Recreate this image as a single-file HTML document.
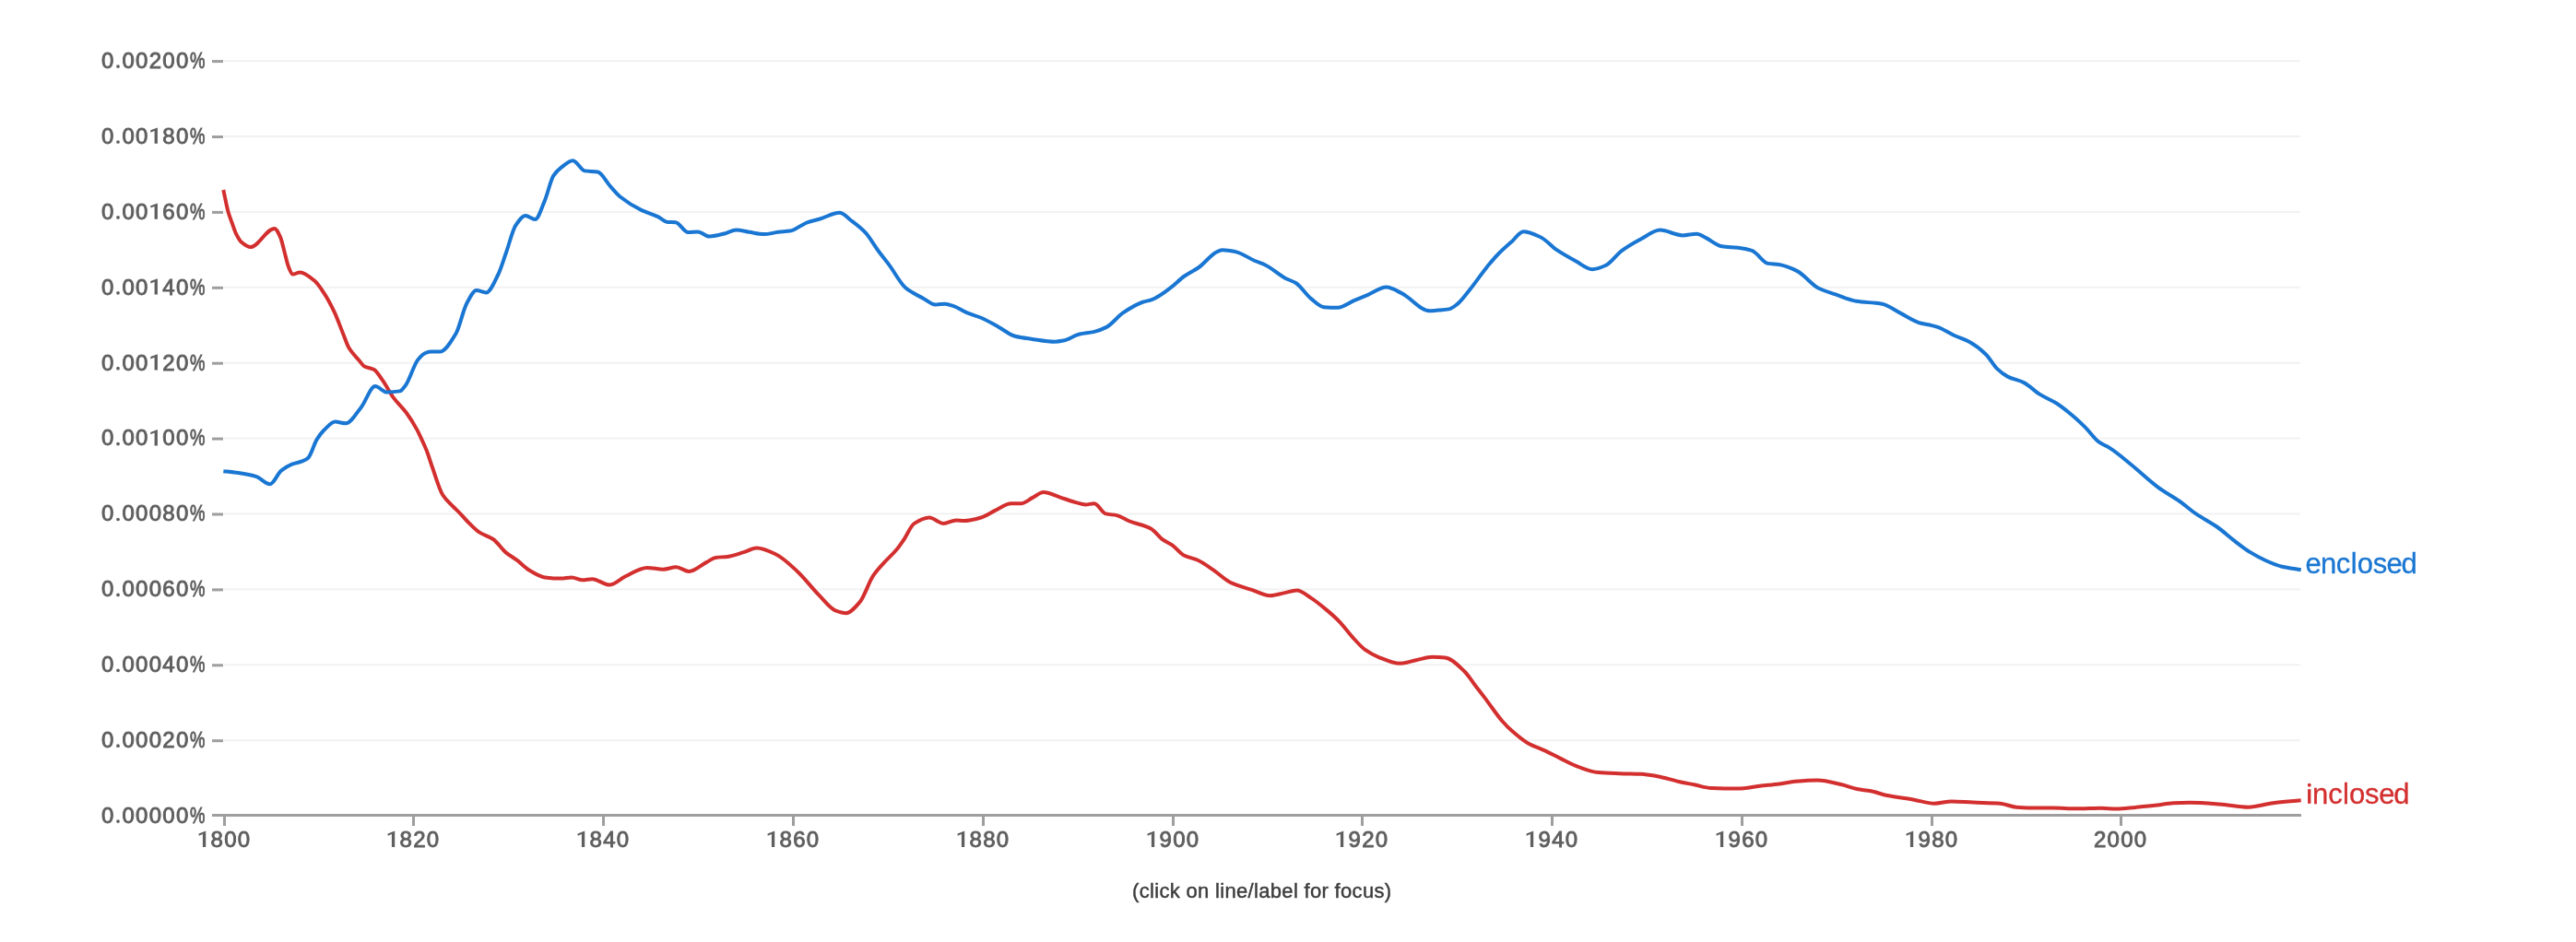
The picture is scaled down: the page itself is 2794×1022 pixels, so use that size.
<!DOCTYPE html>
<html><head><meta charset="utf-8">
<style>
html,body{margin:0;padding:0;background:#fff;}
body{width:2794px;height:1022px;overflow:hidden;position:relative;}
svg{position:absolute;left:0;top:0;will-change:transform;}
text{font-family:"Liberation Sans",sans-serif;}
.yl{font-size:24px;fill:#5f5f5f;text-anchor:middle;stroke:#5f5f5f;stroke-width:0.9px;}
.xl{font-size:24px;fill:#5f5f5f;text-anchor:middle;stroke:#5f5f5f;stroke-width:0.9px;}
.sl{font-size:31px;text-anchor:middle;stroke-width:0.3px;}
.cap{font-size:22px;fill:#3c3c3c;text-anchor:middle;stroke:#3c3c3c;stroke-width:0.45px;}
</style></head>
<body>
<svg width="2794" height="1022" viewBox="0 0 2794 1022">
<rect x="243" y="802.20" width="2252" height="2" fill="#f2f2f2"/><rect x="243" y="720.30" width="2252" height="2" fill="#f2f2f2"/><rect x="243" y="638.40" width="2252" height="2" fill="#f2f2f2"/><rect x="243" y="556.50" width="2252" height="2" fill="#f2f2f2"/><rect x="243" y="474.60" width="2252" height="2" fill="#f2f2f2"/><rect x="243" y="392.70" width="2252" height="2" fill="#f2f2f2"/><rect x="243" y="310.80" width="2252" height="2" fill="#f2f2f2"/><rect x="243" y="228.90" width="2252" height="2" fill="#f2f2f2"/><rect x="243" y="147.00" width="2252" height="2" fill="#f2f2f2"/><rect x="243" y="65.10" width="2252" height="2" fill="#f2f2f2"/>
<rect x="230" y="802.20" width="12" height="3" fill="#9e9e9e"/><rect x="230" y="720.30" width="12" height="3" fill="#9e9e9e"/><rect x="230" y="638.40" width="12" height="3" fill="#9e9e9e"/><rect x="230" y="556.50" width="12" height="3" fill="#9e9e9e"/><rect x="230" y="474.60" width="12" height="3" fill="#9e9e9e"/><rect x="230" y="392.70" width="12" height="3" fill="#9e9e9e"/><rect x="230" y="310.80" width="12" height="3" fill="#9e9e9e"/><rect x="230" y="228.90" width="12" height="3" fill="#9e9e9e"/><rect x="230" y="147.00" width="12" height="3" fill="#9e9e9e"/><rect x="230" y="65.10" width="12" height="3" fill="#9e9e9e"/>
<rect x="230" y="883" width="2266" height="3" fill="#9e9e9e"/>
<rect x="242" y="883" width="3" height="13" fill="#9e9e9e"/><rect x="447" y="883" width="3" height="13" fill="#9e9e9e"/><rect x="653" y="883" width="3" height="13" fill="#9e9e9e"/><rect x="859" y="883" width="3" height="13" fill="#9e9e9e"/><rect x="1065" y="883" width="3" height="13" fill="#9e9e9e"/><rect x="1271" y="883" width="3" height="13" fill="#9e9e9e"/><rect x="1476" y="883" width="3" height="13" fill="#9e9e9e"/><rect x="1682" y="883" width="3" height="13" fill="#9e9e9e"/><rect x="1888" y="883" width="3" height="13" fill="#9e9e9e"/><rect x="2094" y="883" width="3" height="13" fill="#9e9e9e"/><rect x="2299" y="883" width="3" height="13" fill="#9e9e9e"/>
<circle cx="128.00" cy="891.10" r="1.85" fill="#5f5f5f"/><text x="116.8 139.1 153.7 168.4 182.9 197.6" y="892.9" class="yl">000000</text><text transform="translate(214.3,892.9) scale(0.77,1)" class="yl">%</text><circle cx="128.00" cy="809.20" r="1.85" fill="#5f5f5f"/><text x="116.8 139.1 153.7 168.4 182.9 197.6" y="811.0" class="yl">000020</text><text transform="translate(214.3,811.0) scale(0.77,1)" class="yl">%</text><circle cx="128.00" cy="727.30" r="1.85" fill="#5f5f5f"/><text x="116.8 139.1 153.7 168.4 182.9 197.6" y="729.1" class="yl">000040</text><text transform="translate(214.3,729.1) scale(0.77,1)" class="yl">%</text><circle cx="128.00" cy="645.40" r="1.85" fill="#5f5f5f"/><text x="116.8 139.1 153.7 168.4 182.9 197.6" y="647.2" class="yl">000060</text><text transform="translate(214.3,647.2) scale(0.77,1)" class="yl">%</text><circle cx="128.00" cy="563.50" r="1.85" fill="#5f5f5f"/><text x="116.8 139.1 153.7 168.4 182.9 197.6" y="565.3" class="yl">000080</text><text transform="translate(214.3,565.3) scale(0.77,1)" class="yl">%</text><circle cx="128.00" cy="481.60" r="1.85" fill="#5f5f5f"/><path d="M163.20,468.90 L170.90,466.10 L170.90,483.40 L167.60,483.40 L167.60,469.60 L163.40,471.30Z" fill="#5f5f5f"/><text x="116.8 139.1 153.7 182.9 197.6" y="483.4" class="yl">00000</text><text transform="translate(214.3,483.4) scale(0.77,1)" class="yl">%</text><circle cx="128.00" cy="399.70" r="1.85" fill="#5f5f5f"/><path d="M163.20,387.00 L170.90,384.20 L170.90,401.50 L167.60,401.50 L167.60,387.70 L163.40,389.40Z" fill="#5f5f5f"/><text x="116.8 139.1 153.7 182.9 197.6" y="401.5" class="yl">00020</text><text transform="translate(214.3,401.5) scale(0.77,1)" class="yl">%</text><circle cx="128.00" cy="317.80" r="1.85" fill="#5f5f5f"/><path d="M163.20,305.10 L170.90,302.30 L170.90,319.60 L167.60,319.60 L167.60,305.80 L163.40,307.50Z" fill="#5f5f5f"/><text x="116.8 139.1 153.7 182.9 197.6" y="319.6" class="yl">00040</text><text transform="translate(214.3,319.6) scale(0.77,1)" class="yl">%</text><circle cx="128.00" cy="235.90" r="1.85" fill="#5f5f5f"/><path d="M163.20,223.20 L170.90,220.40 L170.90,237.70 L167.60,237.70 L167.60,223.90 L163.40,225.60Z" fill="#5f5f5f"/><text x="116.8 139.1 153.7 182.9 197.6" y="237.7" class="yl">00060</text><text transform="translate(214.3,237.7) scale(0.77,1)" class="yl">%</text><circle cx="128.00" cy="154.00" r="1.85" fill="#5f5f5f"/><path d="M163.20,141.30 L170.90,138.50 L170.90,155.80 L167.60,155.80 L167.60,142.00 L163.40,143.70Z" fill="#5f5f5f"/><text x="116.8 139.1 153.7 182.9 197.6" y="155.8" class="yl">00080</text><text transform="translate(214.3,155.8) scale(0.77,1)" class="yl">%</text><circle cx="128.00" cy="72.10" r="1.85" fill="#5f5f5f"/><text x="116.8 139.1 153.7 168.4 182.9 197.6" y="73.9" class="yl">000200</text><text transform="translate(214.3,73.9) scale(0.77,1)" class="yl">%</text>
<path d="M215.50,904.40 L223.20,901.60 L223.20,918.90 L219.90,918.90 L219.90,905.10 L215.70,906.80Z" fill="#5f5f5f"/><text x="235.3 249.9 264.5" y="918.9" class="xl">800</text><path d="M420.50,904.40 L428.20,901.60 L428.20,918.90 L424.90,918.90 L424.90,905.10 L420.70,906.80Z" fill="#5f5f5f"/><text x="440.3 454.9 469.5" y="918.9" class="xl">820</text><path d="M626.50,904.40 L634.20,901.60 L634.20,918.90 L630.90,918.90 L630.90,905.10 L626.70,906.80Z" fill="#5f5f5f"/><text x="646.3 660.9 675.5" y="918.9" class="xl">840</text><path d="M832.50,904.40 L840.20,901.60 L840.20,918.90 L836.90,918.90 L836.90,905.10 L832.70,906.80Z" fill="#5f5f5f"/><text x="852.3 866.9 881.5" y="918.9" class="xl">860</text><path d="M1038.50,904.40 L1046.20,901.60 L1046.20,918.90 L1042.90,918.90 L1042.90,905.10 L1038.70,906.80Z" fill="#5f5f5f"/><text x="1058.3 1072.9 1087.5" y="918.9" class="xl">880</text><path d="M1244.50,904.40 L1252.20,901.60 L1252.20,918.90 L1248.90,918.90 L1248.90,905.10 L1244.70,906.80Z" fill="#5f5f5f"/><text x="1264.3 1278.9 1293.5" y="918.9" class="xl">900</text><path d="M1449.50,904.40 L1457.20,901.60 L1457.20,918.90 L1453.90,918.90 L1453.90,905.10 L1449.70,906.80Z" fill="#5f5f5f"/><text x="1469.3 1483.9 1498.5" y="918.9" class="xl">920</text><path d="M1655.50,904.40 L1663.20,901.60 L1663.20,918.90 L1659.90,918.90 L1659.90,905.10 L1655.70,906.80Z" fill="#5f5f5f"/><text x="1675.3 1689.9 1704.5" y="918.9" class="xl">940</text><path d="M1861.50,904.40 L1869.20,901.60 L1869.20,918.90 L1865.90,918.90 L1865.90,905.10 L1861.70,906.80Z" fill="#5f5f5f"/><text x="1881.3 1895.9 1910.5" y="918.9" class="xl">960</text><path d="M2067.50,904.40 L2075.20,901.60 L2075.20,918.90 L2071.90,918.90 L2071.90,905.10 L2067.70,906.80Z" fill="#5f5f5f"/><text x="2087.3 2101.9 2116.5" y="918.9" class="xl">980</text><text x="2277.7 2292.3 2306.9 2321.5" y="918.9" class="xl">2000</text>
<path d="M242.3,206.0C244.0,213.9 245.8,223.7 247.5,229.8C248.8,234.5 250.2,237.7 251.5,241.4C253.1,245.8 254.7,250.9 256.3,254.1C258.2,257.8 260.0,261.2 261.9,262.8C265.1,265.5 268.4,268.1 271.6,268.1C280.3,268.1 289.0,247.9 297.7,247.9C299.8,247.9 302.0,252.7 304.1,257.3C305.7,260.7 307.3,268.9 308.9,274.8C310.2,279.6 311.5,286.0 312.8,289.1C314.4,293.0 316.0,297.6 317.6,297.6C320.2,297.6 322.7,295.4 325.3,295.4C330.7,295.4 336.2,300.5 341.6,305.1C344.7,307.8 347.9,312.7 351.0,317.4C354.9,323.2 358.7,330.3 362.6,338.4C365.7,345.0 368.9,354.0 372.0,361.7C374.2,367.0 376.3,373.9 378.5,377.5C382.2,383.7 385.8,386.7 389.5,391.0C391.4,393.2 393.3,396.5 395.2,397.5C398.7,399.4 402.2,399.1 405.7,401.0C408.8,402.7 411.9,408.4 415.0,412.7C418.9,418.2 422.8,426.1 426.7,431.4C431.4,437.7 436.0,441.4 440.7,447.7C444.6,453.0 448.5,459.2 452.4,466.4C453.9,469.2 455.4,472.5 456.9,475.7C458.9,480.0 460.9,484.1 462.9,489.2C464.8,494.1 466.7,500.6 468.6,506.0C472.5,516.9 476.3,530.9 480.2,537.0C484.1,543.1 488.0,545.9 491.9,550.0C494.4,552.6 496.8,554.7 499.3,557.3C501.6,559.7 504.0,562.6 506.3,565.0C510.8,569.5 515.2,574.5 519.7,577.4C524.8,580.7 529.8,581.6 534.9,585.0C539.6,588.2 544.2,595.7 548.9,599.6C552.8,602.8 556.7,604.8 560.6,607.7C564.9,610.9 569.1,615.6 573.4,618.2C579.2,621.7 585.1,625.7 590.9,626.4C596.8,627.1 602.6,627.6 608.5,627.6C612.4,627.6 616.2,626.4 620.1,626.4C624.0,626.4 627.9,629.3 631.8,629.3C635.3,629.3 638.8,628.2 642.3,628.2C648.5,628.2 654.8,634.6 661.0,634.6C666.8,634.6 672.7,627.9 678.5,625.2C686.3,621.6 694.1,615.9 701.9,615.9C707.7,615.9 713.6,617.7 719.4,617.7C724.1,617.7 728.7,615.3 733.4,615.3C738.1,615.3 742.7,620.0 747.4,620.0C753.6,620.0 759.9,613.3 766.1,610.1C769.5,608.4 772.9,605.5 776.3,605.0C780.6,604.4 784.9,604.4 789.2,603.9C795.0,603.2 800.9,600.9 806.7,599.2C811.4,597.8 816.0,594.5 820.7,594.5C827.7,594.5 834.7,598.2 841.7,601.5C849.5,605.1 857.3,613.0 865.1,620.2C872.9,627.4 880.7,638.0 888.5,645.9C894.3,651.8 900.2,660.1 906.0,662.3C909.9,663.8 913.8,665.2 917.7,665.2C922.7,665.2 927.8,658.7 932.8,652.9C937.5,647.4 942.2,631.9 946.9,624.9C950.8,619.1 954.6,615.2 958.5,610.9C963.2,605.7 967.8,601.9 972.5,596.3C975.0,593.3 977.5,589.6 980.0,586.0C983.9,580.3 987.8,570.4 991.7,567.9C997.1,564.4 1002.6,561.5 1008.0,561.5C1013.1,561.5 1018.1,567.9 1023.2,567.9C1027.9,567.9 1032.5,564.4 1037.2,564.4C1039.9,564.4 1042.7,565.0 1045.4,565.0C1051.6,565.0 1057.9,563.2 1064.1,561.5C1069.2,560.1 1074.2,556.3 1079.3,553.9C1085.1,551.2 1091.0,546.3 1096.8,546.3C1100.3,546.3 1103.8,546.3 1107.3,546.3C1111.6,546.3 1115.8,542.0 1120.1,539.9C1124.0,537.9 1127.9,534.0 1131.8,534.0C1137.6,534.0 1143.5,537.5 1149.3,539.3C1155.2,541.2 1161.0,543.6 1166.9,545.1C1170.4,546.0 1173.9,547.4 1177.4,547.4C1180.5,547.4 1183.6,546.3 1186.7,546.3C1191.0,546.3 1195.2,556.3 1199.5,557.4C1203.4,558.4 1207.3,558.3 1211.2,559.1C1215.9,560.1 1220.5,563.6 1225.2,565.5C1233.0,568.6 1240.8,569.5 1248.6,573.7C1252.5,575.8 1256.4,581.9 1260.3,584.8C1264.2,587.7 1268.1,589.0 1272.0,591.8C1276.0,594.7 1280.0,600.5 1284.0,602.5C1289.1,605.1 1294.1,605.5 1299.2,607.8C1305.0,610.4 1310.9,614.9 1316.7,618.9C1322.5,622.9 1328.4,628.9 1334.2,631.7C1342.0,635.5 1349.8,637.3 1357.6,639.9C1364.2,642.1 1370.8,646.3 1377.4,646.3C1382.5,646.3 1387.5,644.4 1392.6,643.4C1397.3,642.5 1401.9,640.5 1406.6,640.5C1411.7,640.5 1416.7,645.4 1421.8,648.6C1427.6,652.3 1433.5,657.2 1439.3,662.1C1443.6,665.7 1447.9,669.4 1452.2,673.8C1457.6,679.3 1463.1,687.2 1468.5,693.0C1472.7,697.4 1476.8,702.3 1481.0,705.2C1485.7,708.5 1490.3,711.0 1495.0,712.8C1502.8,715.9 1510.6,719.8 1518.4,719.8C1524.2,719.8 1530.1,717.5 1535.9,716.3C1541.7,715.1 1547.6,712.8 1553.4,712.8C1558.1,712.8 1562.7,713.0 1567.4,713.4C1574.4,713.9 1581.5,721.8 1588.5,728.5C1592.4,732.2 1596.2,738.7 1600.1,743.7C1604.0,748.8 1607.9,753.8 1611.8,758.9C1617.6,766.6 1623.5,775.7 1629.3,782.3C1632.9,786.4 1636.4,790.0 1640.0,793.1C1645.8,798.2 1651.7,803.3 1657.5,806.5C1663.3,809.7 1669.2,811.4 1675.0,814.1C1680.9,816.8 1686.7,820.1 1692.6,822.9C1699.2,826.1 1705.8,829.9 1712.4,832.2C1719.4,834.7 1726.4,837.5 1733.4,838.1C1741.2,838.7 1749.0,838.9 1756.8,839.2C1764.6,839.5 1772.3,839.5 1780.1,839.8C1786.0,840.1 1791.8,841.2 1797.7,842.2C1805.5,843.6 1813.2,846.3 1821.0,848.0C1826.8,849.3 1832.7,850.3 1838.5,851.5C1844.3,852.7 1850.2,854.8 1856.0,855.0C1865.7,855.4 1875.5,855.6 1885.2,855.6C1893.0,855.6 1900.8,853.6 1908.6,852.7C1915.7,851.9 1922.9,851.4 1930.0,850.5C1935.8,849.8 1941.7,848.3 1947.5,847.8C1955.3,847.2 1963.1,846.6 1970.9,846.6C1979.8,846.6 1988.8,849.3 1997.7,851.3C2003.2,852.5 2008.6,854.9 2014.1,856.0C2019.2,857.0 2024.2,857.3 2029.3,858.3C2035.1,859.4 2041.0,861.8 2046.8,863.0C2056.5,865.0 2066.3,866.0 2076.0,867.7C2083.4,869.0 2090.8,871.7 2098.2,871.7C2104.4,871.7 2110.6,869.4 2116.8,869.4C2124.6,869.4 2132.4,870.3 2140.2,870.6C2149.9,871.0 2159.7,871.0 2169.4,871.7C2175.2,872.1 2181.1,875.3 2186.9,875.8C2191.3,876.2 2195.6,876.5 2200.0,876.5C2208.9,876.5 2217.9,876.5 2226.8,876.5C2235.3,876.5 2243.9,877.3 2252.4,877.3C2261.3,877.3 2270.3,876.7 2279.2,876.7C2284.6,876.7 2290.1,877.6 2295.5,877.6C2302.5,877.6 2309.5,876.5 2316.5,875.9C2324.2,875.2 2332.0,874.5 2339.7,873.6C2345.5,872.9 2351.4,871.5 2357.2,871.2C2363.0,870.9 2368.9,870.7 2374.7,870.7C2385.6,870.7 2396.4,871.6 2407.3,872.4C2417.8,873.1 2428.2,875.7 2438.7,875.7C2447.6,875.7 2456.6,872.3 2465.5,871.2C2475.6,870.0 2485.6,869.3 2495.7,868.3" fill="none" stroke="#d32f2f" stroke-width="4" stroke-linejoin="round"/>
<path d="M242.3,511.2C247.7,511.8 253.0,512.3 258.4,513.1C265.0,514.1 271.6,515.1 278.2,517.1C283.1,518.6 287.9,525.3 292.8,525.3C296.9,525.3 300.9,513.9 305.0,510.7C308.9,507.6 312.8,505.3 316.7,503.7C320.6,502.1 324.5,501.8 328.4,500.2C330.4,499.4 332.3,498.5 334.3,496.7C337.4,493.9 340.5,481.9 343.6,476.9C346.3,472.5 349.1,468.9 351.8,466.3C355.7,462.6 359.6,457.6 363.5,457.6C367.4,457.6 371.2,459.3 375.1,459.3C380.6,459.3 386.2,448.7 391.7,441.9C396.8,435.6 401.8,419.1 406.9,419.1C411.2,419.1 415.4,425.5 419.7,425.5C424.4,425.5 429.0,425.2 433.7,424.4C435.7,424.1 437.6,421.0 439.6,418.5C444.2,412.5 448.9,395.5 453.5,390.0C456.2,386.8 459.0,383.8 461.7,382.9C463.7,382.2 465.7,381.6 467.7,381.6C470.8,381.6 473.9,381.6 477.0,381.6C482.9,381.6 488.7,371.4 494.6,361.7C498.5,355.2 502.4,336.0 506.3,329.0C509.8,322.7 513.3,315.0 516.8,315.0C520.3,315.0 523.8,317.4 527.3,317.4C531.5,317.4 535.8,306.8 540.0,298.5C543.0,292.7 545.9,282.5 548.9,274.2C552.4,264.5 555.9,249.6 559.4,244.4C562.9,239.2 566.4,233.9 569.9,233.9C573.4,233.9 576.9,238.0 580.4,238.0C583.9,238.0 587.4,225.7 590.9,217.6C594.0,210.3 597.2,195.5 600.3,190.7C603.0,186.5 605.8,184.0 608.5,181.9C612.8,178.6 617.0,174.3 621.3,174.3C625.6,174.3 629.9,184.7 634.2,185.4C638.9,186.1 643.5,185.9 648.2,186.6C652.9,187.3 657.5,197.3 662.2,202.4C665.7,206.2 669.2,210.7 672.7,213.5C680.5,219.8 688.2,224.4 696.0,228.1C701.9,230.9 707.7,232.3 713.6,235.1C717.0,236.7 720.5,240.7 723.9,240.9C726.8,241.1 729.8,241.0 732.7,241.2C737.2,241.5 741.8,252.0 746.3,252.0C749.8,252.0 753.3,251.4 756.8,251.4C761.0,251.4 765.1,256.5 769.3,256.5C774.8,256.5 780.2,254.8 785.7,253.5C790.0,252.5 794.2,249.5 798.5,249.5C803.2,249.5 807.9,251.1 812.6,251.8C818.0,252.6 823.5,254.1 828.9,254.1C834.0,254.1 839.0,252.4 844.1,251.8C848.4,251.3 852.6,251.2 856.9,250.6C863.1,249.7 869.4,243.4 875.6,241.3C879.9,239.8 884.2,239.0 888.5,237.8C895.9,235.7 903.2,230.8 910.6,230.8C914.9,230.8 919.2,236.3 923.5,239.5C928.6,243.3 933.6,247.0 938.7,252.4C943.4,257.4 948.0,265.9 952.7,272.2C956.6,277.5 960.5,282.2 964.4,287.4C970.2,295.2 976.1,306.7 981.9,311.9C984.6,314.3 987.3,315.8 990.0,317.5C993.9,319.9 997.8,321.8 1001.7,323.9C1006.0,326.1 1010.2,330.4 1014.5,330.4C1018.0,330.4 1021.5,329.8 1025.0,329.8C1028.1,329.8 1031.3,331.1 1034.4,332.1C1039.1,333.6 1043.7,337.1 1048.4,339.1C1053.8,341.4 1059.3,342.7 1064.7,345.0C1070.9,347.7 1077.2,351.5 1083.4,354.9C1089.2,358.1 1095.1,363.3 1100.9,364.8C1106.8,366.3 1112.6,366.9 1118.5,367.7C1127.1,368.9 1135.6,370.7 1144.2,370.7C1147.3,370.7 1150.4,370.1 1153.5,369.5C1159.3,368.4 1165.2,363.8 1171.0,362.5C1176.1,361.4 1181.1,361.2 1186.2,360.1C1190.9,359.1 1195.5,357.3 1200.2,354.9C1206.0,351.9 1211.9,343.7 1217.7,339.7C1224.7,334.9 1231.7,330.5 1238.7,328.0C1242.2,326.8 1245.8,326.4 1249.3,325.1C1256.3,322.5 1263.3,316.9 1270.3,311.7C1274.9,308.3 1279.4,303.3 1284.0,300.0C1289.5,296.1 1294.9,293.9 1300.4,290.0C1307.0,285.3 1313.6,275.8 1320.2,273.1C1322.2,272.3 1324.1,271.3 1326.1,271.3C1330.8,271.3 1335.4,272.2 1340.1,273.1C1347.1,274.5 1354.1,280.0 1361.1,283.0C1365.0,284.7 1368.9,285.8 1372.8,287.7C1379.8,291.1 1386.8,298.0 1393.8,301.7C1397.7,303.8 1401.6,304.6 1405.5,307.0C1410.9,310.4 1416.4,319.5 1421.8,323.9C1426.5,327.7 1431.1,332.8 1435.8,333.2C1440.9,333.6 1445.9,333.8 1451.0,333.8C1456.8,333.8 1462.7,328.7 1468.5,326.2C1473.6,324.0 1478.6,321.9 1483.7,319.8C1490.3,317.0 1497.0,311.6 1503.6,311.6C1509.4,311.6 1515.3,315.8 1521.1,318.6C1530.8,323.3 1540.6,337.3 1550.3,337.3C1553.5,337.3 1556.8,336.9 1560.0,336.6C1563.9,336.3 1567.8,336.1 1571.7,335.4C1574.8,334.8 1577.9,332.1 1581.0,329.6C1585.7,325.9 1590.3,319.0 1595.0,313.2C1600.9,305.9 1606.7,297.1 1612.6,289.9C1616.5,285.2 1620.3,280.5 1624.2,276.5C1629.3,271.3 1634.3,266.9 1639.4,262.4C1643.7,258.6 1648.0,251.3 1652.3,251.3C1658.5,251.3 1664.7,254.4 1670.9,257.2C1676.8,259.9 1682.6,267.2 1688.5,271.2C1695.5,275.9 1702.5,279.7 1709.5,283.5C1715.3,286.6 1721.2,292.2 1727.0,292.2C1732.1,292.2 1737.1,289.9 1742.2,287.6C1747.6,285.1 1753.1,276.5 1758.5,272.4C1765.5,267.2 1772.5,263.2 1779.5,259.5C1786.5,255.8 1793.6,249.6 1800.6,249.6C1808.8,249.6 1816.9,255.4 1825.1,255.4C1830.2,255.4 1835.2,253.7 1840.3,253.7C1843.5,253.7 1846.8,256.4 1850.0,257.9C1855.8,260.7 1861.7,266.4 1867.5,267.3C1873.3,268.2 1879.2,268.1 1885.0,268.8C1890.1,269.4 1895.1,270.3 1900.2,271.9C1906.0,273.8 1911.9,284.9 1917.7,285.9C1921.6,286.6 1925.5,286.5 1929.4,287.1C1936.0,288.1 1942.7,290.9 1949.3,294.1C1957.1,297.9 1964.8,309.0 1972.6,312.8C1978.4,315.7 1984.3,317.2 1990.1,319.2C1997.9,321.9 2005.7,325.6 2013.5,326.8C2022.8,328.3 2032.2,328.0 2041.5,329.7C2047.7,330.8 2054.0,336.0 2060.2,339.1C2068.0,343.0 2075.8,348.7 2083.6,350.8C2087.5,351.8 2091.3,352.2 2095.2,353.1C2097.4,353.6 2099.5,354.2 2101.7,354.9C2107.5,356.9 2113.4,361.0 2119.2,363.7C2125.0,366.4 2130.9,368.1 2136.7,371.3C2142.5,374.5 2148.4,379.0 2154.2,384.7C2158.1,388.5 2162.0,396.2 2165.9,399.9C2169.8,403.6 2173.7,406.6 2177.6,408.6C2183.4,411.6 2189.3,412.2 2195.1,415.1C2200.9,418.0 2206.8,424.3 2212.6,427.9C2218.4,431.5 2224.3,433.6 2230.1,437.3C2235.9,440.9 2241.7,445.7 2247.5,450.5C2252.2,454.4 2256.8,458.8 2261.5,463.4C2266.6,468.4 2271.6,476.1 2276.7,479.7C2280.6,482.5 2284.5,483.6 2288.4,486.1C2296.2,491.0 2303.9,497.9 2311.7,504.2C2321.4,512.1 2331.2,521.7 2340.9,528.8C2348.7,534.5 2356.5,538.5 2364.3,544.0C2370.1,548.1 2376.0,553.4 2381.8,557.4C2389.6,562.8 2397.4,566.5 2405.2,572.0C2411.0,576.1 2416.9,581.6 2422.7,586.1C2428.5,590.6 2434.4,595.3 2440.2,598.9C2446.0,602.5 2451.9,605.6 2457.7,608.2C2463.5,610.8 2469.4,613.3 2475.2,614.7C2482.0,616.3 2488.9,617.0 2495.7,618.2" fill="none" stroke="#1976d2" stroke-width="4" stroke-linejoin="round"/>
<text x="2509.0 2525.5 2541.6 2553.1 2565.4 2581.6 2597.2 2613.2" y="622" class="sl" fill="#1976d2" stroke="#1976d2">enclosed</text><rect x="2503.1" y="856.2" width="3.3" height="15.6" fill="#d32f2f"/><circle cx="2504.8" cy="851.7" r="1.95" fill="#d32f2f"/><text x="2516.6 2533.1 2544.5 2556.6 2572.8 2588.9 2604.8" y="871.9" class="sl" fill="#d32f2f" stroke="#d32f2f">nclosed</text>
<text x="1368.6" y="973.6" class="cap" textLength="281" lengthAdjust="spacing">(click on line/label for focus)</text>
</svg>
</body></html>
